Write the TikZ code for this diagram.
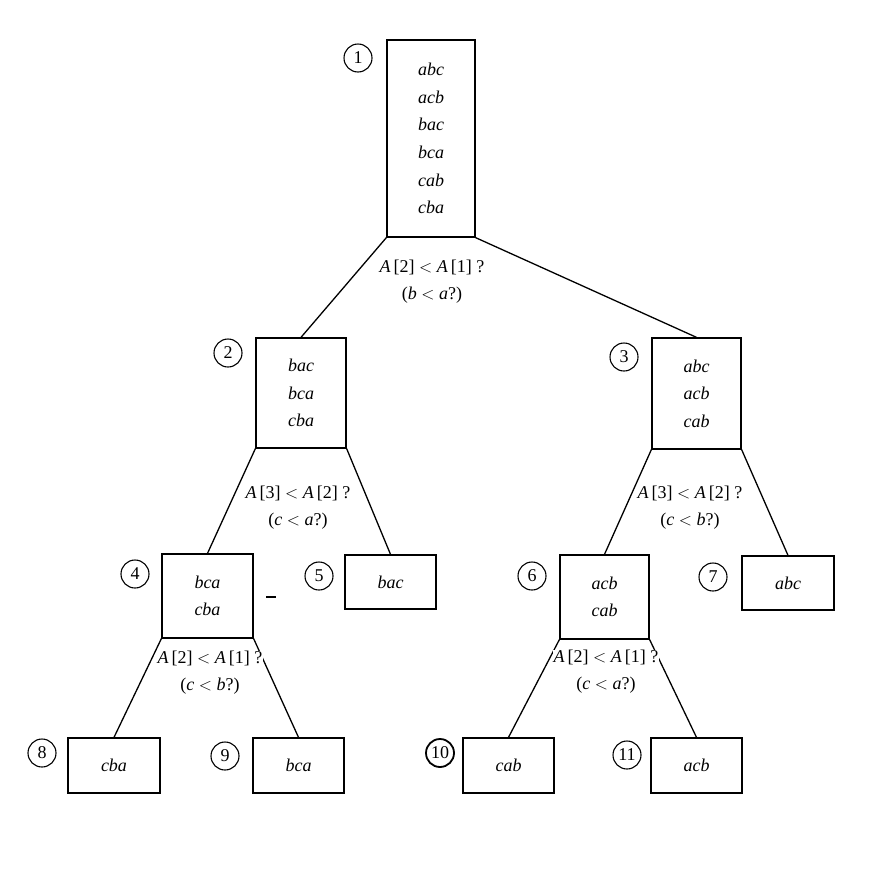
\documentclass[tikz,border=0pt]{standalone}
\usepackage{fontspec}
\setmainfont{Liberation Serif}
\begin{document}
\begin{tikzpicture}[x=1pt,y=-1pt,
  bx/.style={draw,line width=1.3pt,inner sep=0pt,font=\fontsize{18}{27.6}\selectfont\itshape,align=center},
  num/.style={draw,circle,line width=1.1pt,minimum size=28pt,inner sep=0pt,font=\fontsize{18}{18}\selectfont},
  lab/.style={font=\fontsize{18}{27}\selectfont,align=center,fill=white,inner sep=0.5pt},
  ed/.style={line width=1.3pt}]
\useasboundingbox (0,0) rectangle (881,868);
\node[bx,minimum width=88pt,minimum height=197pt] (b1) at (431,138.5) {abc\\acb\\bac\\bca\\cab\\cba};
\node[bx,minimum width=90pt,minimum height=110pt] (b2) at (301,393) {bac\\bca\\cba};
\node[bx,minimum width=89pt,minimum height=111pt] (b3) at (696.5,393.5) {abc\\acb\\cab};
\node[bx,minimum width=91pt,minimum height=84pt] (b4) at (207.5,596) {bca\\cba};
\node[bx,minimum width=91pt,minimum height=54pt] (b5) at (390.5,582) {bac};
\node[bx,minimum width=89pt,minimum height=84pt] (b6) at (604.5,597) {acb\\cab};
\node[bx,minimum width=92pt,minimum height=54pt] (b7) at (788,583) {abc};
\node[bx,minimum width=92pt,minimum height=55pt] (b8) at (114,765.5) {cba};
\node[bx,minimum width=91pt,minimum height=55pt] (b9) at (298.5,765.5) {bca};
\node[bx,minimum width=91pt,minimum height=55pt] (b10) at (508.5,765.5) {cab};
\node[bx,minimum width=91pt,minimum height=55pt] (b11) at (696.5,765.5) {acb};
\node[num] (n1) at (358,58) {1};
\node[num] (n2) at (228,353) {2};
\node[num] (n3) at (624,357) {3};
\node[num] (n4) at (135,574) {4};
\node[num] (n5) at (319,576) {5};
\node[num] (n6) at (532,576) {6};
\node[num] (n7) at (713,577) {7};
\node[num] (n8) at (42,753) {8};
\node[num] (n9) at (225,756) {9};
\node[num,line width=1.8pt] (n10) at (440,753) {10};
\node[num] (n11) at (627,755) {11};
\draw[ed] (b1.south west) -- (b2.north);
\draw[ed] (b1.south east) -- (b3.north);
\draw[ed] (b2.south west) -- (b4.north);
\draw[ed] (b2.south east) -- (b5.north);
\draw[ed] (b3.south west) -- (b6.north);
\draw[ed] (b3.south east) -- (b7.north);
\draw[ed] (b4.south west) -- (b8.north);
\draw[ed] (b4.south east) -- (b9.north);
\draw[ed] (b6.south west) -- (b10.north);
\draw[ed] (b6.south east) -- (b11.north);
\node[lab] (l1) at (432,282) {\textit{A}\,[2] $<$ \textit{A}\,[1] ?\\(\textit{b} $<$ \textit{a}?)};
\node[lab] (l2) at (298,508) {\textit{A}\,[3] $<$ \textit{A}\,[2] ?\\(\textit{c} $<$ \textit{a}?)};
\node[lab] (l3) at (690,508) {\textit{A}\,[3] $<$ \textit{A}\,[2] ?\\(\textit{c} $<$ \textit{b}?)};
\node[lab] (l4) at (210,673) {\textit{A}\,[2] $<$ \textit{A}\,[1] ?\\(\textit{c} $<$ \textit{b}?)};
\node[lab] (l5) at (606,672) {\textit{A}\,[2] $<$ \textit{A}\,[1] ?\\(\textit{c} $<$ \textit{a}?)};
\coordinate (d1) at (266,597); \coordinate (d2) at (276,597);
\draw[line width=2pt] (d1) -- (d2);
\end{tikzpicture}
\end{document}
